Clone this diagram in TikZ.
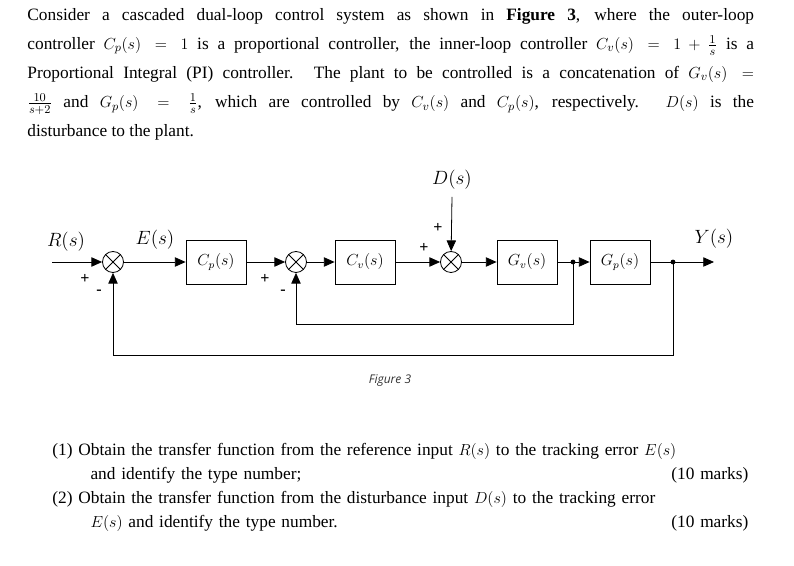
\documentclass[tikz,border=0pt]{standalone}
\usepackage{amsmath}
\usepackage{fontspec}
\setmainfont{Liberation Serif}
\newfontfamily\figfont{Open Sans}
\usetikzlibrary{positioning,arrows.meta}
\tikzset{
  blk/.style={draw, minimum width=60*0.75pt, minimum height=44*0.75pt, inner sep=0pt, font=\large},
  sum/.style={draw, circle, minimum size=21*0.75pt, inner sep=0pt},
  sig/.style={-{Triangle[length=8pt,width=7pt]}},
  lbl/.style={font=\Large},
  sgn/.style={font=\bfseries\large, inner sep=0pt},
}
\begin{document}
\begin{tikzpicture}[x=0.75pt, y=-0.75pt, line width=0.6pt]
  \useasboundingbox (0,0) rectangle (794,566);
  % problem text
  \node[anchor=north west, text width=545pt, align=justify, inner sep=0pt, font=\fontsize{13}{21.8}\selectfont] (txt) at (27,8)
    {Consider a cascaded dual-loop control system as shown in \textbf{Figure 3}, where the outer-loop\linebreak
     controller $C_p(s)=1$ is a proportional controller, the inner-loop controller $C_v(s)=1+\tfrac{1}{s}$ is a\linebreak
     Proportional Integral (PI) controller. The plant to be controlled is a concatenation of $G_v(s)=$\linebreak
     $\tfrac{10}{s+2}$ and $G_p(s)=\tfrac{1}{s}$, which are controlled by $C_v(s)$ and $C_p(s)$, respectively. $D(s)$ is the\linebreak
     disturbance to the plant.};
  % blocks and summers
  \node[sum] (s1) at (113,262) {};
  \node[blk] (cp) at (216,262) {$C_p(s)$};
  \node[sum] (s2) at (296,262) {};
  \node[blk] (cv) at (365,262) {$C_v(s)$};
  \node[sum] (s3) at (451,262) {};
  \node[blk] (gv) at (527,262) {$G_v(s)$};
  \node[blk] (gp) at (620,262) {$G_p(s)$};
  \foreach \s in {s1,s2,s3} {
    \draw (\s.north west) -- (\s.south east);
    \draw (\s.north east) -- (\s.south west);
  }
  \coordinate (in) at (52,262);
  \coordinate (b1) at (573,262);
  \coordinate (b2) at (673,262);
  \coordinate (out) at (714,262);
  \coordinate (dtop) at (452,197);
  \coordinate (l1) at (296,324);
  \coordinate (l2) at (573,324);
  \coordinate (l3) at (113,355);
  \coordinate (l4) at (673,355);
  \fill (b1) circle (1.8pt) (b2) circle (1.8pt);
  % signal flow
  \draw[sig] (in) -- (s1);
  \draw[sig] (s1) -- (cp);
  \draw[sig] (cp) -- (s2);
  \draw[sig] (s2) -- (cv);
  \draw[sig] (cv) -- (s3);
  \draw[sig] (s3) -- (gv);
  \draw[sig] (gv) -- (gp);
  \draw[sig] (gp) -- (out);
  \draw[sig] (dtop) -- (s3);
  \draw[sig] (b1) -- (l2) -- (l1) -- (s2);
  \draw[sig] (b2) -- (l4) -- (l3) -- (s1);
  % labels
  \node[lbl] (rl) at (66,242) {$R(s)$};
  \node[lbl] (el) at (155,240) {$E(s)$};
  \node[lbl] (yl) at (714,239) {$Y(s)$};
  \node[lbl] (dl) at (452,180) {$D(s)$};
  \node[sgn] (p1) at (85,279) {+};
  \node[sgn] (m1) at (99,292) {-};
  \node[sgn] (p2) at (265,279) {+};
  \node[sgn] (m2) at (283,292) {-};
  \node[sgn] (p3) at (424,248) {+};
  \node[sgn] (p4) at (438,228) {+};
  \node[font=\figfont\itshape\small, text=black!80] (fig) at (390,381) {Figure 3};
  % questions
  \node[anchor=north west, text width=522pt, inner sep=0pt, font=\fontsize{13}{18}\selectfont] (q) at (52,443)
    {(1) Obtain the transfer function from the reference input $R(s)$ to the tracking error $E(s)$\\
     \hspace*{2.2em}and identify the type number;\hfill(10 marks)\\
     (2) Obtain the transfer function from the disturbance input $D(s)$ to the tracking error\\
     \hspace*{2.2em}$E(s)$ and identify the type number.\hfill(10 marks)};
\end{tikzpicture}
\end{document}
